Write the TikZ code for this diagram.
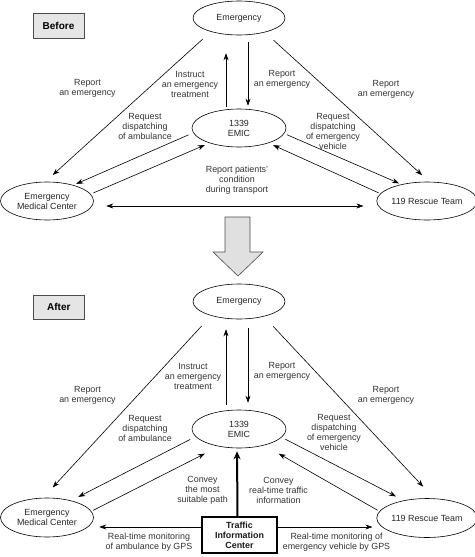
\documentclass[tikz,border=0pt]{standalone}
\usepackage{fontspec}
\setmainfont{Liberation Sans}
\usetikzlibrary{shapes.geometric,arrows.meta}

\tikzset{
  place/.style={ellipse, draw, line width=0.6pt, inner sep=0pt, align=center,
    text=black!85, font=\fontsize{8.9}{10}\selectfont},
  lbl/.style={align=center, inner sep=0pt, text=black!80, font=\fontsize{8.9}{10}\selectfont},
  arr/.style={-{Stealth[length=7pt,width=5pt]}, line width=0.6pt},
  darr/.style={{Stealth[length=7pt,width=5pt]}-{Stealth[length=7pt,width=5pt]}, line width=0.6pt},
  bigarr/.style={-{Stealth[length=8pt,width=7pt]}, line width=2pt},
  tag/.style={draw=black!70, fill=black!10, line width=0.8pt, minimum width=51pt,
    minimum height=25pt, inner sep=0pt, font=\bfseries\fontsize{10}{12}\selectfont},
}

\begin{document}
\begin{tikzpicture}[x=1pt,y=-1pt]
\useasboundingbox (0,0) rectangle (474,557);

% before
\node[tag] (before) at (58.5,25.5) {Before};
\node[place, minimum width=92pt, minimum height=34pt] (em1) at (239,18) {Emergency};
\node[place, minimum width=94pt, minimum height=38pt] (emic1) at (239,128) {1339\\EMIC};
\node[place, minimum width=93pt, minimum height=38pt] (emc1) at (47,201) {Emergency\\Medical Center};
\node[place, minimum width=92pt, minimum height=38pt] (rt1) at (427,201) {119 Rescue Team};

\draw[arr, shorten <=11pt, shorten >=10pt] (em1.206) -- (emc1.95);
\draw[arr, shorten <=11.7pt, shorten >=9.7pt] (em1.-29) -- (rt1.83);
\draw[arr, shorten <=2pt, shorten >=18pt] ([xshift=-13pt]emic1.north) -- ([xshift=-13pt]em1.south);
\draw[arr, shorten <=7pt, shorten >=3pt] ([xshift=9pt]em1.south) -- ([xshift=9pt]emic1.north);
\draw[arr, shorten <=5pt, shorten >=3pt] (emic1.186) -- (emc1.31);
\draw[arr, shorten <=3pt, shorten >=5pt] (emc1.9) -- (emic1.207);
\draw[arr, shorten <=3pt, shorten >=2.5pt] (emic1.-7) -- (rt1.147);
\draw[arr, shorten <=2pt, shorten >=5pt] (rt1.171) -- (emic1.-27);
\draw[darr, shorten <=12.5pt, shorten >=13pt] ([yshift=-5pt]emc1.east) -- ([yshift=-5pt]rt1.west);

\node[lbl] (b1) at (87.5,88.7) {Report\\an emergency};
\node[lbl] (b2) at (190,84) {Instruct\\an emergency\\treatment};
\node[lbl] (b3) at (282,79) {Report\\an emergency};
\node[lbl] (b4) at (386,89) {Report\\an emergency};
\node[lbl] (b5) at (145,126) {Request\\dispatching\\of ambulance};
\node[lbl] (b6) at (333,131) {Request\\dispatching\\of emergency\\vehicle};
\node[lbl] (b7) at (237,180) {Report patients'\\condition\\during transport};

% big arrow down
\draw[fill=black!12, draw=black!70, line width=0.6pt]
  (225,217) -- (250,217) -- (250,252) -- (263,252) -- (238,276) -- (213,252) -- (225,252) -- cycle;

% after
\node[tag, minimum height=24pt] (after) at (58.8,307) {After};
\node[place, minimum width=92pt, minimum height=35pt] (em2) at (239,301.5) {Emergency};
\node[place, minimum width=94pt, minimum height=38pt] (emic2) at (239,429) {1339\\EMIC};
\node[place, minimum width=93pt, minimum height=39pt] (emc2) at (47,517.5) {Emergency\\Medical Center};
\node[place, minimum width=92pt, minimum height=39pt] (rt2) at (427,518) {119 Rescue Team};
\node[draw, line width=1.3pt, minimum width=75pt, minimum height=36pt, inner sep=0pt,
  align=center, text=black!90, font=\bfseries\fontsize{8.9}{10}\selectfont] (tic) at (239.5,535) {Traffic\\Information\\Center};

\draw[arr, shorten <=14pt, shorten >=14pt] (em2.207) -- (emc2.101);
\draw[arr, shorten <=13.4pt, shorten >=16pt] (em2.-31) -- (rt2.70);
\draw[arr, shorten <=5pt, shorten >=10pt] ([xshift=-13pt]emic2.north) -- ([xshift=-13pt]em2.south);
\draw[arr, shorten <=9pt, shorten >=7pt] ([xshift=9pt]em2.south) -- ([xshift=9pt]emic2.north);
\draw[arr, shorten <=6pt, shorten >=8pt] (emic2.190) -- (emc2.35);
\draw[arr, shorten <=2pt, shorten >=15.7pt] (emc2.8) -- (emic2.221);
\draw[arr, shorten <=4pt, shorten >=8.6pt] (emic2.-11) -- (rt2.143);
\draw[arr, shorten <=2pt, shorten >=16.8pt] (rt2.172) -- (emic2.-33);
\draw[bigarr, shorten >=3pt] ([xshift=-2pt]tic.north) -- ([xshift=-2pt]emic2.south);
\draw[arr, shorten >=5.5pt] ([yshift=8pt]tic.west) -- ([yshift=-9.5pt]emc2.east);
\draw[arr, shorten >=4pt] ([yshift=8pt]tic.east) -- ([yshift=-9pt]rt2.west);

\node[lbl] (a1) at (87.5,395.7) {Report\\an emergency};
\node[lbl] (a2) at (193,376.7) {Instruct\\an emergency\\treatment};
\node[lbl] (a3) at (282,371.3) {Report\\an emergency};
\node[lbl] (a4) at (386,395.7) {Report\\an emergency};
\node[lbl] (a5) at (145,428.5) {Request\\dispatching\\of ambulance};
\node[lbl] (a6) at (334,432.5) {Request\\dispatching\\of emergency\\vehicle};
\node[lbl] (a7) at (202.5,490) {Convey\\the most\\suitable path};
\node[lbl] (a8) at (278.5,490) {Convey\\real-time traffic\\information};
\node[lbl] (a9) at (149,542) {Real-time monitoring\\of ambulance by GPS};
\node[lbl] (a10) at (336.5,542) {Real-time monitoring of\\emergency vehicle by GPS};
\end{tikzpicture}
\end{document}
